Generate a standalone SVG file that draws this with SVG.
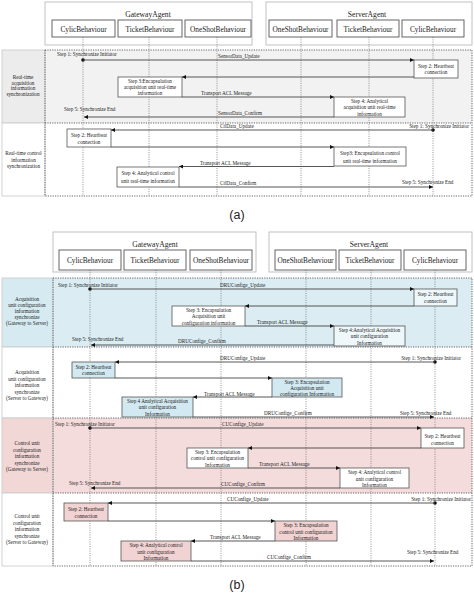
<svg xmlns="http://www.w3.org/2000/svg" width="474" height="594" viewBox="0 0 474 594">
<style>
.t{font-family:"Liberation Serif",serif;font-size:5.2px;fill:#222}
.c{text-anchor:middle}
.e{text-anchor:end}
.bh{font-size:7.3px}
.ag{font-size:7.6px}
.cap{font-family:"Liberation Sans",Arial,sans-serif;font-size:12.5px;fill:#222;text-anchor:middle}
.agent{fill:#fff;stroke:#bbb;stroke-width:0.9}
.beh{fill:#fff;stroke:#555;stroke-width:0.9}
.box{stroke:#555;stroke-width:0.8}
.w{fill:#fff}.lb{fill:#eef7fa}.bl{fill:#d3e9f1}.pk{fill:#f2d3d3}
.ll{stroke:#777;stroke-width:0.8;stroke-dasharray:1 1.3;fill:none}
.fr{fill:none;stroke:#555;stroke-width:0.9;stroke-dasharray:1.2 1.2}
.msg{stroke:#444;stroke-width:0.9;fill:none;marker-end:url(#ah)}
.panel{stroke:#c8c8c8;stroke-width:0.8}
</style>
<defs>
<marker id="ah" viewBox="0 0 6 6" refX="6" refY="3" markerWidth="4.5" markerHeight="4" orient="auto" markerUnits="userSpaceOnUse"><path d="M0,0 L6,3 L0,6 z" fill="#111"/></marker>
</defs>
<rect width="474" height="594" fill="#fff"/>

<!-- ========== (a) ========== -->
<g id="a-rows">
<rect x="2" y="50" width="470" height="73" fill="#f2f2f2"/>
<rect x="2" y="50" width="43" height="73" fill="#ececec" class="panel"/>
<rect x="2" y="123" width="43" height="73" fill="#fff" class="panel"/>
<rect x="45" y="50" width="427" height="146" class="fr"/>
<line x1="45" y1="123" x2="472" y2="123" class="fr"/>
<text class="t c" x="23" y="79">Real-time</text>
<text class="t c" x="23" y="84.5">acquisition</text>
<text class="t c" x="23" y="90">information</text>
<text class="t c" x="23" y="95.5">synchronization</text>
<text class="t c" x="23.5" y="155">Real-time control</text>
<text class="t c" x="23.5" y="161.5">information</text>
<text class="t c" x="23.5" y="168">synchronization</text>
</g>
<g id="a-gateway-agent">
<rect x="45" y="2" width="207" height="43" class="agent"/>
<text class="t c ag" x="148" y="16.5">GatewayAgent</text>
</g>
<g id="a-server-agent">
<rect x="266" y="2" width="206" height="43" class="agent"/>
<text class="t c ag" x="367" y="16.5">ServerAgent</text>
</g>
<g id="a-lifelines">
<line x1="83" y1="37" x2="83" y2="196" class="ll"/>
<line x1="149" y1="37" x2="149" y2="196" class="ll"/>
<line x1="217" y1="37" x2="217" y2="196" class="ll"/>
<line x1="301" y1="37" x2="301" y2="196" class="ll"/>
<line x1="369" y1="37" x2="369" y2="196" class="ll"/>
<line x1="433" y1="37" x2="433" y2="196" class="ll"/>
</g>
<g id="a-gw-cylic"><rect x="52" y="20" width="63" height="17" class="beh"/><text class="t c bh" x="83.5" y="31.5">CylicBehaviour</text></g>
<g id="a-gw-ticket"><rect x="118" y="20" width="64" height="17" class="beh"/><text class="t c bh" x="150" y="31.5">TicketBehaviour</text></g>
<g id="a-gw-oneshot"><rect x="185" y="20" width="66" height="17" class="beh"/><text class="t c bh" x="218" y="31.5">OneShotBehaviour</text></g>
<g id="a-sv-oneshot"><rect x="269" y="20" width="63" height="17" class="beh"/><text class="t c bh" x="300.5" y="31.5">OneShotBehaviour</text></g>
<g id="a-sv-ticket"><rect x="337" y="20" width="62" height="17" class="beh"/><text class="t c bh" x="368" y="31.5">TicketBehaviour</text></g>
<g id="a-sv-cylic"><rect x="402" y="20" width="62" height="17" class="beh"/><text class="t c bh" x="433" y="31.5">CylicBehaviour</text></g>

<g id="a-r1-step2"><rect x="414" y="60" width="44" height="18" class="box w"/><text class="t c" x="436" y="67.5">Step 2: Heartbeat</text><text class="t c" x="436" y="74">connection</text></g>
<g id="a-r1-step3"><rect x="118" y="77" width="64" height="20" class="box w"/><text class="t c" x="150" y="82.5">Step 3:Encapsulation</text><text class="t c" x="150" y="88.5">acquisition unit real-time</text><text class="t c" x="150" y="94.5">information</text></g>
<g id="a-r1-step4"><rect x="334" y="97" width="71" height="20" class="box w"/><text class="t c" x="369.5" y="102.5">Step 4: Analytical</text><text class="t c" x="369.5" y="108.5">acquisition unit real-time</text><text class="t c" x="369.5" y="115.5">information</text></g>
<g id="a-r2-step2"><rect x="67" y="129" width="44" height="18" class="box w"/><text class="t c" x="89" y="136.5">Step 2: Heartbeat</text><text class="t c" x="89" y="143.5">connection</text></g>
<g id="a-r2-step3"><rect x="334" y="147" width="72" height="19" class="box w"/><text class="t c" x="370" y="155">Step3: Encapsulation control</text><text class="t c" x="370" y="162.5">unit real-time information</text></g>
<g id="a-r2-step4"><rect x="117" y="167" width="62" height="20" class="box w"/><text class="t c" x="148" y="175">Step 4: Analytical control</text><text class="t c" x="148" y="182.5">unit real-time information</text></g>

<g id="a-connectors">
<circle cx="83" cy="60" r="1.8" fill="#111"/>
<line x1="83" y1="60" x2="414" y2="60" class="msg"/>
<line x1="414" y1="77" x2="182" y2="77" class="msg"/>
<line x1="182" y1="97" x2="334" y2="97" class="msg"/>
<line x1="334" y1="117" x2="84" y2="117" class="msg"/>
<circle cx="433" cy="130" r="1.8" fill="#111"/>
<line x1="433" y1="130" x2="111" y2="130" class="msg"/>
<line x1="111" y1="147" x2="334" y2="147" class="msg"/>
<line x1="334" y1="166.5" x2="179" y2="166.5" class="msg"/>
<line x1="179" y1="187" x2="433" y2="187" class="msg"/>
</g>
<g id="a-labels">
<text class="t" x="57" y="56">Step 1: Synchronize Initiator</text>
<text class="t" x="218" y="58">SensorData_Update</text>
<text class="t" x="201" y="95">Transport ACL Message</text>
<text class="t" x="64" y="111">Step 5: Synchronize End</text>
<text class="t" x="218" y="115">SensorData_Confirm</text>
<text class="t e" x="469" y="127.5">Step 1: Synchronize Initiator</text>
<text class="t" x="220" y="128">CtlData_Update</text>
<text class="t" x="200" y="164.5">Transport ACL Message</text>
<text class="t" x="220" y="185">CtlData_Confirm</text>
<text class="t" x="402" y="184">Step 5: Synchronize End</text>
</g>
<text class="cap" x="237" y="219">(a)</text>

<!-- ========== (b) ========== -->
<g id="b-rows">
<rect x="2" y="278" width="470" height="69" fill="#dbedf3"/>
<rect x="2" y="418" width="470" height="75" fill="#f5dcdc"/>
<rect x="2" y="278" width="51" height="69" fill="#d6eaf1" class="panel"/>
<rect x="2" y="347" width="51" height="71" fill="#fff" class="panel"/>
<rect x="2" y="418" width="51" height="75" fill="#f2d7d7" class="panel"/>
<rect x="2" y="493" width="51" height="73" fill="#fff" class="panel"/>
<rect x="53" y="278" width="419" height="288" class="fr"/>
<line x1="53" y1="347" x2="472" y2="347" class="fr"/>
<line x1="53" y1="418" x2="472" y2="418" class="fr"/>
<line x1="53" y1="493" x2="472" y2="493" class="fr"/>
<text class="t c" x="27" y="300.5">Acquisition</text>
<text class="t c" x="27" y="306.5">unit configuration</text>
<text class="t c" x="27" y="312.5">information</text>
<text class="t c" x="27" y="318.5">synchronize</text>
<text class="t c" x="27" y="324.5">(Gateway to Server)</text>
<text class="t c" x="27" y="374">Acquisition</text>
<text class="t c" x="27" y="380.5">unit configuration</text>
<text class="t c" x="27" y="387">information</text>
<text class="t c" x="27" y="393.5">synchronize</text>
<text class="t c" x="27" y="400">(Server to Gateway)</text>
<text class="t c" x="27" y="445">Control unit</text>
<text class="t c" x="27" y="451.5">configuration</text>
<text class="t c" x="27" y="458">information</text>
<text class="t c" x="27" y="464.5">synchronize</text>
<text class="t c" x="27" y="471">(Gateway to Server)</text>
<text class="t c" x="27" y="518">Control unit</text>
<text class="t c" x="27" y="524.5">configuration</text>
<text class="t c" x="27" y="531">information</text>
<text class="t c" x="27" y="537.5">synchronize</text>
<text class="t c" x="27" y="544">(Server to Gateway)</text>
</g>
<g id="b-gateway-agent">
<rect x="53" y="232" width="203" height="40" class="agent"/>
<text class="t c ag" x="155" y="246.5">GatewayAgent</text>
</g>
<g id="b-server-agent">
<rect x="269" y="232" width="203" height="40" class="agent"/>
<text class="t c ag" x="369" y="246.5">ServerAgent</text>
</g>
<g id="b-lifelines">
<line x1="90" y1="270" x2="90" y2="566" class="ll"/>
<line x1="156" y1="270" x2="156" y2="566" class="ll"/>
<line x1="221" y1="270" x2="221" y2="566" class="ll"/>
<line x1="306" y1="270" x2="306" y2="566" class="ll"/>
<line x1="371" y1="270" x2="371" y2="566" class="ll"/>
<line x1="435" y1="270" x2="435" y2="566" class="ll"/>
</g>
<g id="b-gw-cylic"><rect x="59" y="250" width="62" height="20" class="beh"/><text class="t c bh" x="90" y="262.5">CylicBehaviour</text></g>
<g id="b-gw-ticket"><rect x="124" y="250" width="62" height="20" class="beh"/><text class="t c bh" x="155" y="262.5">TicketBehaviour</text></g>
<g id="b-gw-oneshot"><rect x="190" y="250" width="62" height="20" class="beh"/><text class="t c bh" x="221" y="262.5">OneShotBehaviour</text></g>
<g id="b-sv-oneshot"><rect x="275" y="250" width="61" height="20" class="beh"/><text class="t c bh" x="305.5" y="262.5">OneShotBehaviour</text></g>
<g id="b-sv-ticket"><rect x="339" y="250" width="62" height="20" class="beh"/><text class="t c bh" x="370" y="262.5">TicketBehaviour</text></g>
<g id="b-sv-cylic"><rect x="404" y="250" width="62" height="20" class="beh"/><text class="t c bh" x="435" y="262.5">CylicBehaviour</text></g>

<g id="b-r1-step2"><rect x="414" y="289" width="43" height="17" class="box lb"/><text class="t c" x="435.5" y="296">Step 2: Heartbeat</text><text class="t c" x="435.5" y="303">connection</text></g>
<g id="b-r1-step3"><rect x="172" y="306" width="73" height="20" class="box w"/><text class="t c" x="208.5" y="312">Step 3: Encapsulation</text><text class="t c" x="208.5" y="318">Acquisition unit</text><text class="t c" x="208.5" y="324.5">configuration information</text></g>
<g id="b-r1-step4"><rect x="334" y="326" width="71" height="20" class="box lb"/><text class="t c" x="369.5" y="331.5">Step 4:Analytical Acquisition</text><text class="t c" x="369.5" y="338">unit configuration</text><text class="t c" x="369.5" y="344.5">Information</text></g>
<g id="b-r2-step2"><rect x="72" y="362" width="43" height="16" class="box bl"/><text class="t c" x="93.5" y="368.5">Step 2: Heartbeat</text><text class="t c" x="93.5" y="375">connection</text></g>
<g id="b-r2-step3"><rect x="272" y="378" width="70" height="19" class="box bl"/><text class="t c" x="307" y="383.5">Step 3: Encapsulation</text><text class="t c" x="307" y="390">Acquisition unit</text><text class="t c" x="307" y="396">configuration Information</text></g>
<g id="b-r2-step4"><rect x="122" y="397" width="71" height="20" class="box bl"/><text class="t c" x="157.5" y="402.5">Step 4 Analytical Acquisition</text><text class="t c" x="157.5" y="409">unit configuration</text><text class="t c" x="157.5" y="415.5">Information</text></g>
<g id="b-r3-step2"><rect x="421" y="428" width="43" height="20" class="box w"/><text class="t c" x="442.5" y="438">Step 2: Heartbeat</text><text class="t c" x="442.5" y="445">connection</text></g>
<g id="b-r3-step3"><rect x="187" y="448" width="61" height="20" class="box w"/><text class="t c" x="217.5" y="453.5">Step 3: Encapsulation</text><text class="t c" x="217.5" y="460">control unit configuration</text><text class="t c" x="217.5" y="466.5">Information</text></g>
<g id="b-r3-step4"><rect x="340" y="468" width="69" height="20" class="box w"/><text class="t c" x="374.5" y="474">Step 4: Analytical control</text><text class="t c" x="374.5" y="480.5">unit configuration</text><text class="t c" x="374.5" y="487">Information</text></g>
<g id="b-r4-step2"><rect x="64" y="503" width="44" height="18" class="box pk"/><text class="t c" x="86" y="510.5">Step 2: Heartbeat</text><text class="t c" x="86" y="517.5">connection</text></g>
<g id="b-r4-step3"><rect x="275" y="521" width="62" height="20" class="box pk"/><text class="t c" x="306" y="527">Step 3: Encapsulation</text><text class="t c" x="306" y="533.5">control unit configuration</text><text class="t c" x="306" y="540">Information</text></g>
<g id="b-r4-step4"><rect x="121" y="541" width="70" height="20" class="box pk"/><text class="t c" x="156" y="547">Step 4: Analytical control</text><text class="t c" x="156" y="553.5">unit configuration</text><text class="t c" x="156" y="560">Information</text></g>

<g id="b-connectors">
<circle cx="90" cy="289" r="1.8" fill="#111"/>
<line x1="90" y1="289" x2="414" y2="289" class="msg"/>
<line x1="414" y1="306" x2="245" y2="306" class="msg"/>
<line x1="245" y1="326" x2="334" y2="326" class="msg"/>
<line x1="334" y1="345" x2="91" y2="345" class="msg"/>
<circle cx="435" cy="362" r="1.8" fill="#111"/>
<line x1="435" y1="362" x2="115" y2="362" class="msg"/>
<line x1="115" y1="378" x2="272" y2="378" class="msg"/>
<line x1="272" y1="397" x2="193" y2="397" class="msg"/>
<line x1="193" y1="417" x2="434" y2="417" class="msg"/>
<circle cx="90" cy="428" r="1.8" fill="#111"/>
<line x1="90" y1="428" x2="421" y2="428" class="msg"/>
<line x1="421" y1="448" x2="248" y2="448" class="msg"/>
<line x1="248" y1="468" x2="340" y2="468" class="msg"/>
<line x1="340" y1="488" x2="91" y2="488" class="msg"/>
<circle cx="435" cy="503" r="1.8" fill="#111"/>
<line x1="435" y1="503" x2="108" y2="503" class="msg"/>
<line x1="108" y1="521" x2="275" y2="521" class="msg"/>
<line x1="275" y1="541" x2="191" y2="541" class="msg"/>
<line x1="191" y1="561" x2="434" y2="561" class="msg"/>
</g>
<g id="b-labels">
<text class="t" x="58" y="287">Step 1: Synchronize Initiator</text>
<text class="t" x="220" y="287">DRUConfige_Update</text>
<text class="t" x="257" y="323.5">Transport ACL Message</text>
<text class="t" x="72" y="341">Step 5: Synchronize End</text>
<text class="t" x="178" y="343">DRUConfige_Confirm</text>
<text class="t e" x="461" y="359.5">Step 1: Synchronize Initiator</text>
<text class="t" x="220" y="359.5">DRUConfige_Update</text>
<text class="t" x="204" y="395.5">Transport ACL Message</text>
<text class="t" x="264" y="415">DRUConfige_Confirm</text>
<text class="t" x="400" y="415">Step 5: Synchronize End</text>
<text class="t" x="55" y="425.5">Step 1: Synchronize Initiator</text>
<text class="t" x="222" y="426">CUConfige_Update</text>
<text class="t" x="259" y="466">Transport ACL Message</text>
<text class="t" x="69" y="484.5">Step 5: Synchronize End</text>
<text class="t" x="221" y="486">CUConfige_Confirm</text>
<text class="t e" x="471" y="501">Step 1: Synchronize Initiator</text>
<text class="t" x="227" y="500.5">CUConfige_Update</text>
<text class="t" x="210" y="539">Transport ACL Message</text>
<text class="t" x="407" y="553.5">Step 5: Synchronize End</text>
<text class="t" x="267" y="559">CUConfige_Confirm</text>
</g>
<text class="cap" x="237" y="589">(b)</text>
</svg>
